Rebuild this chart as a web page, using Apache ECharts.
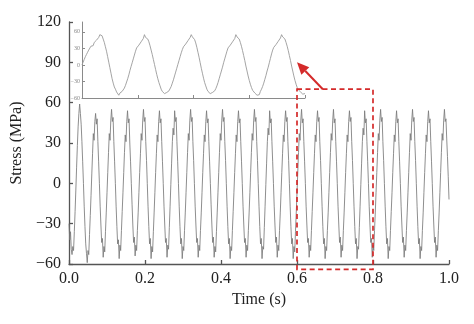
<!DOCTYPE html>
<html>
<head>
<meta charset="utf-8">
<script src="https://cdn.jsdelivr.net/npm/echarts@6/dist/echarts.min.js"></script>
<style>
  html, body { margin: 0; padding: 0; background: #fff; }
  #chart { width: 474px; height: 324px; }
</style>
</head>
<body>
<div id="chart"></div>
<script>
// Stress record, sampled every 2 ms from 0 to 1 s (MPa)
const sampleStep = 0.002;
const stress = [
  -30, -42, -36, -49, -53, -47, -50, -36, -21, -5,
  12, 28, 42, 52, 59, 52, 44, 31, 16, 0,
  -17, -32, -45, -52, -59, -50, -53, -38, -24, -9,
  7, 22, 37, 32, 46, 52, 44, 48, 31, 16,
  0, -17, -31, -44, -41, -55, -47, -51, -36, -22,
  -7, 8, 23, 37, 32, 47, 55, 46, 49, 31,
  16, 0, -17, -32, -45, -42, -56, -46, -50, -35,
  -21, -7, 8, 23, 36, 31, 46, 54, 45, 48,
  30, 16, 0, -16, -31, -44, -40, -54, -46, -50,
  -35, -22, -7, 8, 22, 37, 32, 47, 55, 46,
  49, 31, 17, 0, -17, -32, -45, -41, -56, -47,
  -51, -36, -22, -7, 8, 22, 36, 31, 46, 54,
  45, 48, 31, 16, 0, -17, -31, -44, -41, -55,
  -46, -49, -33, -17, -1, 15, 31, 41, 36, 54,
  46, 49, 31, 16, 0, -17, -32, -45, -41, -56,
  -47, -50, -35, -22, -7, 8, 23, 37, 32, 47,
  55, 46, 49, 31, 17, 0, -17, -31, -44, -41,
  -55, -46, -50, -35, -22, -7, 8, 22, 36, 31,
  46, 54, 45, 48, 31, 16, 0, -16, -31, -44,
  -40, -55, -47, -51, -36, -22, -7, 8, 23, 37,
  32, 47, 55, 46, 49, 31, 17, 0, -17, -32,
  -45, -41, -56, -47, -50, -35, -21, -7, 8, 22,
  36, 31, 46, 54, 45, 48, 31, 16, 0, -17,
  -31, -44, -41, -55, -46, -50, -35, -22, -7, 8,
  23, 37, 32, 47, 55, 46, 49, 31, 17, 0,
  -17, -32, -45, -41, -56, -47, -49, -33, -17, -1,
  15, 31, 41, 36, 54, 45, 48, 31, 16, 0,
  -17, -31, -44, -40, -55, -46, -50, -35, -22, -7,
  8, 22, 36, 31, 46, 54, 46, 49, 31, 17,
  0, -17, -32, -45, -41, -56, -47, -51, -36, -22,
  -7, 8, 23, 37, 32, 47, 55, 45, 48, 31,
  16, 0, -17, -31, -44, -41, -55, -46, -50, -35,
  -21, -7, 8, 22, 36, 31, 46, 54, 46, 49,
  31, 17, 0, -17, -32, -45, -41, -56, -47, -50,
  -35, -22, -7, 8, 23, 37, 32, 47, 55, 45,
  48, 31, 16, 0, -17, -31, -44, -40, -55, -46,
  -50, -35, -22, -7, 8, 22, 36, 31, 46, 54,
  46, 49, 31, 17, 0, -17, -32, -45, -41, -56,
  -47, -49, -33, -17, -1, 15, 31, 41, 36, 54,
  45, 48, 31, 16, 0, -17, -31, -44, -41, -55,
  -46, -50, -35, -22, -7, 8, 23, 37, 32, 47,
  55, 46, 49, 31, 17, 0, -17, -32, -45, -41,
  -56, -47, -50, -35, -21, -7, 8, 22, 36, 31,
  46, 54, 45, 48, 31, 16, 0, -17, -31, -44,
  -40, -55, -46, -50, -35, -22, -7, 8, 23, 37,
  32, 47, 55, 46, 49, 31, 17, 0, -17, -32,
  -45, -41, -56, -47, -50, -35, -22, -7, 8, 22,
  36, 31, 46, 54, 45, 48, 31, 16, 0, -17,
  -31, -44, -40, -55, -46, -50, -35, -22, -7, 8,
  23, 37, 32, 47, 55, 46, 48, 33, 20, 5,
  -12
];

// Zoomed window 0.6–0.8 s, sampled every 1 ms (MPa)
const zoomStart = 0.6;
const zoomStep = 0.001;
const zoomStress = [
  0, 5, 10, 15, 19, 23, 27, 30, 34, 37,
  35, 41, 39, 45, 42, 50, 55, 52, 53, 47,
  41, 33, 25, 15, 5, -5, -15, -25, -33, -40,
  -44, -49, -47, -55, -51, -53, -48, -46, -42, -37,
  -31, -25, -18, -10, -3, 4, 11, 18, 25, 31,
  28, 36, 33, 42, 39, 48, 55, 50, 53, 47,
  42, 35, 27, 19, 10, 1, -8, -17, -25, -32,
  -38, -44, -48, -45, -52, -55, -50, -53, -47, -44,
  -39, -33, -27, -20, -13, -6, 1, 8, 15, 22,
  28, 33, 30, 38, 35, 44, 41, 50, 55, 51,
  53, 46, 40, 32, 23, 14, 4, -6, -15, -24,
  -32, -38, -44, -48, -45, -52, -55, -50, -53, -47,
  -43, -38, -32, -25, -18, -11, -4, 4, 11, 18,
  25, 31, 28, 36, 33, 42, 39, 48, 55, 51,
  53, 47, 41, 34, 26, 17, 8, -2, -11, -20,
  -28, -35, -41, -46, -44, -51, -49, -55, -52, -54,
  -48, -44, -39, -33, -26, -19, -11, -4, 4, 12,
  20, 27, 32, 29, 37, 34, 43, 40, 49, 55,
  51, 53, 47, 41, 34, 26, 17, 8, -2, -11,
  -20, -28, -35, -41, -45, -43, -49, -47, -53, -50,
  -52
];

// Axis ticks
const timeTicks = [0, 0.2, 0.4, 0.6, 0.8, 1.0];
const stressTicks = [-60, -30, 0, 30, 60, 90, 120];
const zoomTimeTicks = [0.6, 0.65, 0.7, 0.75, 0.8];
const zoomStressTicks = [-60, -30, 0, 30, 60];

// Highlighted window [t0, t1, sLow, sHigh] and pointer [from, to]
const windowBox = [0.6, 0.8, -64, 70];
const pointerFrom = [0.668, 70];
const pointerTo = [0.6, 90];

const serif = '"Liberation Serif", "DejaVu Serif", serif';
const minus = v => String(v).replace('-', '\u2212');

const mainData = stress.map((v, i) => [+(i * sampleStep).toFixed(4), v]);
const zoomData = zoomStress.map((v, i) => [+(zoomStart + i * zoomStep).toFixed(4), v]);

const chart = echarts.init(document.getElementById('chart'), null, { renderer: 'canvas' });

const axisDark = { color: '#555', width: 1.3 };
const axisLight = { color: '#8a8a8a', width: 1 };

chart.setOption({
  animation: false,
  backgroundColor: '#fff',
  grid: [
    { left: 69, right: 25, top: 22, bottom: 60 },
    { left: 82, right: 169, top: 22, bottom: 226 }
  ],
  xAxis: [
    {
      type: 'value', gridIndex: 0,
      min: timeTicks[0], max: timeTicks[timeTicks.length - 1], interval: 0.2,
      axisLine: { show: true, onZero: false, lineStyle: axisDark },
      axisTick: { show: true, inside: true, length: 4, lineStyle: axisDark },
      axisLabel: { fontFamily: serif, fontSize: 16, color: '#222', margin: 7,
        formatter: v => v.toFixed(1) },
      splitLine: { show: false },
      name: 'Time (s)', nameLocation: 'middle', nameGap: 28,
      nameTextStyle: { fontFamily: serif, fontSize: 16, color: '#222' }
    },
    {
      type: 'value', gridIndex: 1,
      min: zoomTimeTicks[0], max: zoomTimeTicks[zoomTimeTicks.length - 1], interval: 0.05,
      axisLine: { show: true, onZero: false, lineStyle: axisLight },
      axisTick: { show: true, inside: true, length: 3, lineStyle: axisLight },
      axisLabel: { show: false },
      splitLine: { show: false }
    }
  ],
  yAxis: [
    {
      type: 'value', gridIndex: 0,
      min: stressTicks[0], max: stressTicks[stressTicks.length - 1], interval: 30,
      axisLine: { show: true, onZero: false, lineStyle: axisDark },
      axisTick: { show: true, inside: true, length: 4, lineStyle: axisDark },
      axisLabel: { fontFamily: serif, fontSize: 16, color: '#222', margin: 8,
        formatter: v => minus(v) },
      splitLine: { show: false },
      name: 'Stress (MPa)', nameLocation: 'middle', nameGap: 40, nameRotate: 90,
      nameTextStyle: { fontFamily: serif, fontSize: 16, color: '#222' }
    },
    {
      type: 'value', gridIndex: 1,
      min: zoomStressTicks[0], max: 78, interval: 30,
      axisLine: { show: true, onZero: false, lineStyle: axisLight },
      axisTick: { show: true, inside: true, length: 3, lineStyle: axisLight,
        customValues: zoomStressTicks },
      axisLabel: { fontFamily: serif, fontSize: 6, color: '#888', margin: 2,
        customValues: zoomStressTicks, formatter: v => minus(v) },
      splitLine: { show: false }
    }
  ],
  series: [
    {
      type: 'line', xAxisIndex: 0, yAxisIndex: 0,
      data: mainData, showSymbol: false, silent: true,
      lineStyle: { color: '#7a7a7a', width: 0.85 }
    },
    {
      type: 'line', xAxisIndex: 1, yAxisIndex: 1,
      data: zoomData, showSymbol: false, silent: true,
      lineStyle: { color: '#9a9a9a', width: 0.9 }
    }
  ]
});

// Dashed window and pointer, placed through the main grid's scales
const px = p => chart.convertToPixel({ gridIndex: 0 }, p);
const boxA = px([windowBox[0], windowBox[3]]);
const boxB = px([windowBox[1], windowBox[2]]);
const from = px(pointerFrom);
const to = px(pointerTo);
const ang = Math.atan2(to[1] - from[1], to[0] - from[0]);
const headLen = 12, headHalf = 5.5;
const base = [to[0] - headLen * Math.cos(ang), to[1] - headLen * Math.sin(ang)];
const nx = -Math.sin(ang), ny = Math.cos(ang);

chart.setOption({
  graphic: [
    {
      type: 'rect', z: 100,
      shape: { x: boxA[0], y: boxA[1], width: boxB[0] - boxA[0], height: boxB[1] - boxA[1] },
      style: { fill: 'none', stroke: '#d42a2a', lineWidth: 1.7, lineDash: [5, 3.5] }
    },
    {
      type: 'line', z: 100,
      shape: { x1: from[0], y1: from[1], x2: base[0], y2: base[1] },
      style: { stroke: '#d42a2a', lineWidth: 2 }
    },
    {
      type: 'polygon', z: 100,
      shape: { points: [to,
        [base[0] + nx * headHalf, base[1] + ny * headHalf],
        [base[0] - nx * headHalf, base[1] - ny * headHalf]] },
      style: { fill: '#d42a2a' }
    }
  ]
});
</script>
</body>
</html>
